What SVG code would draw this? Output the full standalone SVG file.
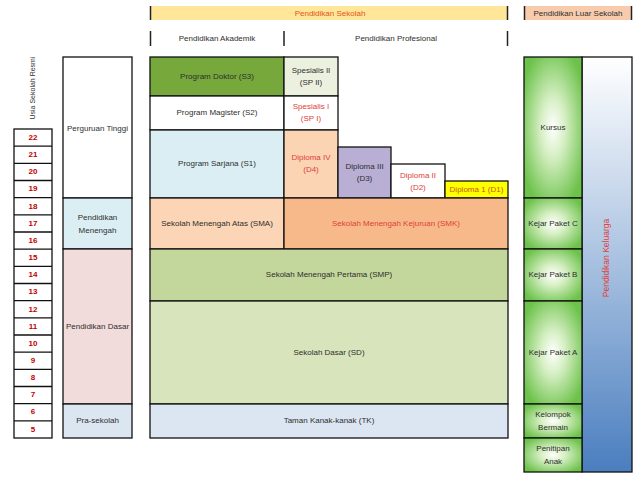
<svg xmlns="http://www.w3.org/2000/svg" width="638" height="478" viewBox="0 0 638 478">
<style>
text{font-family:"Liberation Sans","Open Sans",sans-serif;font-size:8px;fill:#2e2e2e;text-anchor:middle;dominant-baseline:middle}
.red{fill:#e0403a}
.age{fill:#c00000;font-weight:bold}
.b{stroke:#111;stroke-width:1.3}
.hb{stroke:#222;stroke-width:1.5}
</style>
<defs>
<radialGradient id="gr" cx="0.5" cy="0.5" r="0.6">
<stop offset="0" stop-color="#ffffff"/>
<stop offset="0.35" stop-color="#d6efc4"/>
<stop offset="1" stop-color="#6cc24a"/>
</radialGradient>
<linearGradient id="bl" x1="0" y1="0" x2="0" y2="1">
<stop offset="0" stop-color="#ffffff"/>
<stop offset="0.35" stop-color="#c3d4ea"/>
<stop offset="1" stop-color="#4a7ebf"/>
</linearGradient>
</defs>
<rect width="638" height="478" fill="#fff"/>

<g id="header">
<rect x="150" y="6" width="358" height="14" fill="#ffe699"/>
<line class="hb" x1="150.5" y1="6" x2="150.5" y2="20"/>
<line class="hb" x1="507.5" y1="6" x2="507.5" y2="20"/>
<text x="330" y="13.5" style="fill:#e0561a">Pendidikan Sekolah</text>
<rect x="524" y="6" width="108" height="14" fill="#f8cbad"/>
<line class="hb" x1="524.5" y1="6" x2="524.5" y2="20"/>
<line class="hb" x1="631.5" y1="6" x2="631.5" y2="20"/>
<text x="578" y="13.5">Pendidikan Luar Sekolah</text>
<line class="hb" x1="150.5" y1="31" x2="150.5" y2="46"/>
<line class="hb" x1="284" y1="31" x2="284" y2="46"/>
<line class="hb" x1="507.5" y1="31" x2="507.5" y2="46"/>
<text x="217" y="39">Pendidikan Akademik</text>
<text x="396" y="39">Pendidikan Profesional</text>
</g>

<g id="ages">
<text x="33" y="88" transform="rotate(-90 33 88)" style="font-size:7px">Usia Sekolah Resmi</text>
<rect x="14" y="129" width="38" height="309" fill="#fff" class="b"/>
<g class="b">
<line x1="14" y1="146.2" x2="52" y2="146.2"/><line x1="14" y1="163.3" x2="52" y2="163.3"/>
<line x1="14" y1="180.5" x2="52" y2="180.5"/><line x1="14" y1="197.7" x2="52" y2="197.7"/>
<line x1="14" y1="214.8" x2="52" y2="214.8"/><line x1="14" y1="232" x2="52" y2="232"/>
<line x1="14" y1="249.2" x2="52" y2="249.2"/><line x1="14" y1="266.3" x2="52" y2="266.3"/>
<line x1="14" y1="283.5" x2="52" y2="283.5"/><line x1="14" y1="300.7" x2="52" y2="300.7"/>
<line x1="14" y1="317.8" x2="52" y2="317.8"/><line x1="14" y1="335" x2="52" y2="335"/>
<line x1="14" y1="352.2" x2="52" y2="352.2"/><line x1="14" y1="369.3" x2="52" y2="369.3"/>
<line x1="14" y1="386.5" x2="52" y2="386.5"/><line x1="14" y1="403.7" x2="52" y2="403.7"/>
<line x1="14" y1="420.8" x2="52" y2="420.8"/>
</g>
<text class="age" x="33" y="138">22</text><text class="age" x="33" y="155">21</text>
<text class="age" x="33" y="172">20</text><text class="age" x="33" y="189">19</text>
<text class="age" x="33" y="206.5">18</text><text class="age" x="33" y="223.5">17</text>
<text class="age" x="33" y="241">16</text><text class="age" x="33" y="258">15</text>
<text class="age" x="33" y="275">14</text><text class="age" x="33" y="292">13</text>
<text class="age" x="33" y="309.5">12</text><text class="age" x="33" y="326.5">11</text>
<text class="age" x="33" y="343.5">10</text><text class="age" x="33" y="361">9</text>
<text class="age" x="33" y="378">8</text><text class="age" x="33" y="395">7</text>
<text class="age" x="33" y="412">6</text><text class="age" x="33" y="429.5">5</text>
</g>

<g id="perguruan-tinggi"><rect x="63" y="57" width="69" height="141" fill="#fff" class="b"/><text x="97.5" y="129">Perguruan Tinggi</text></g>
<g id="pendidikan-menengah"><rect x="63" y="198" width="69" height="51" fill="#dbeef4" class="b"/><text x="97.5" y="218">Pendidikan</text><text x="97.5" y="231">Menengah</text></g>
<g id="pendidikan-dasar"><rect x="63" y="249" width="69" height="155" fill="#f2dcdb" class="b"/><text x="97.5" y="327">Pendidikan Dasar</text></g>
<g id="pra-sekolah"><rect x="63" y="404" width="69" height="34" fill="#dce6f1" class="b"/><text x="97.5" y="421">Pra-sekolah</text></g>

<g id="s3"><rect x="150" y="57" width="134" height="39" fill="#77a83c" class="b"/><text x="217" y="76.5">Program Doktor (S3)</text></g>
<g id="sp2"><rect x="284" y="57" width="54" height="39" fill="#ebf1de" class="b"/><text x="311" y="71">Spesialis II</text><text x="311" y="83">(SP II)</text></g>
<g id="s2"><rect x="150" y="96" width="134" height="34" fill="#fff" class="b"/><text x="217" y="113">Program Magister (S2)</text></g>
<g id="sp1"><rect x="284" y="96" width="54" height="34" fill="#fff" class="b"/><text class="red" x="311" y="107">Spesialis I</text><text class="red" x="311" y="119">(SP I)</text></g>
<g id="s1"><rect x="150" y="130" width="134" height="68" fill="#dbeef4" class="b"/><text x="217" y="164">Program Sarjana (S1)</text></g>
<g id="d4"><rect x="284" y="130" width="54" height="68" fill="#fbd4b4" class="b"/><text class="red" x="311" y="158">Diploma IV</text><text class="red" x="311" y="170">(D4)</text></g>
<g id="d3"><rect x="338" y="147" width="53" height="51" fill="#b9aed3" class="b"/><text x="364.5" y="167">Diploma III</text><text x="364.5" y="179">(D3)</text></g>
<g id="d2"><rect x="391" y="164" width="54" height="34" fill="#fff" class="b"/><text class="red" x="418" y="176">Diploma II</text><text class="red" x="418" y="188">(D2)</text></g>
<g id="d1"><rect x="445" y="181" width="63" height="17" fill="#ffff00" class="b"/><text x="476.5" y="190" style="fill:#c55a11">Diploma 1 (D1)</text></g>
<g id="sma"><rect x="150" y="198" width="134" height="51" fill="#fbd5b5" class="b"/><text x="217" y="224">Sekolah Menengah Atas (SMA)</text></g>
<g id="smk"><rect x="284" y="198" width="224" height="51" fill="#f7b98a" class="b"/><text class="red" x="396" y="224">Sekolah Menengah Kejuruan (SMK)</text></g>
<g id="smp"><rect x="150" y="249" width="358" height="52" fill="#c3d69b" class="b"/><text x="329" y="275">Sekolah Menengah Pertama (SMP)</text></g>
<g id="sd"><rect x="150" y="301" width="358" height="103" fill="#d8e4bc" class="b"/><text x="329" y="352.5">Sekolah Dasar (SD)</text></g>
<g id="tk"><rect x="150" y="404" width="358" height="34" fill="#dce6f2" class="b"/><text x="329" y="421">Taman Kanak-kanak (TK)</text></g>

<g id="pendidikan-keluarga"><rect x="582" y="57" width="50" height="415" fill="url(#bl)" class="b"/><text x="607" y="258" transform="rotate(-90 607 258)" class="red" style="font-size:8.5px">Pendidikan Keluarga</text></g>
<g id="kursus"><rect x="524" y="57" width="58" height="141" fill="url(#gr)" class="b"/><text x="553" y="128">Kursus</text></g>
<g id="paket-c"><rect x="524" y="198" width="58" height="51" fill="url(#gr)" class="b"/><text x="553" y="224">Kejar Paket C</text></g>
<g id="paket-b"><rect x="524" y="249" width="58" height="52" fill="url(#gr)" class="b"/><text x="553" y="275">Kejar Paket B</text></g>
<g id="paket-a"><rect x="524" y="301" width="58" height="103" fill="url(#gr)" class="b"/><text x="553" y="352.5">Kejar Paket A</text></g>
<g id="kelompok-bermain"><rect x="524" y="404" width="58" height="34" fill="url(#gr)" class="b"/><text x="553" y="415">Kelompok</text><text x="553" y="428">Bermain</text></g>
<g id="penitipan-anak"><rect x="524" y="438" width="58" height="34" fill="url(#gr)" class="b"/><text x="553" y="449">Penitipan</text><text x="553" y="462">Anak</text></g>

<g id="connectors"></g>
</svg>
